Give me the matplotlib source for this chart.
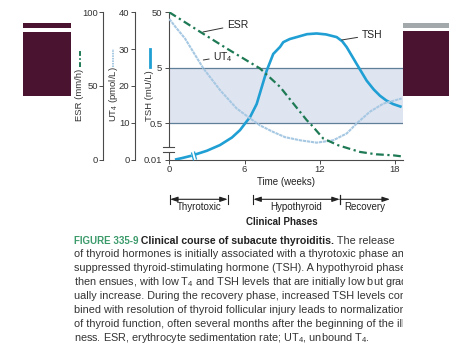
import numpy as np
import matplotlib.pyplot as plt
from matplotlib.lines import Line2D
from matplotlib.patches import Rectangle

plt.rcParams['font.family'] = ['Liberation Sans', 'DejaVu Sans']

# ---------------------------------------------------
# values
# ---------------------------------------------------
nan = np.nan
tsh_weeks = [0.45, 1.0, 1.78, 1.9, 2.05, 3.0, 4.04, 5.0, 5.64, 6.1, 6.44, 6.97, 7.37, 7.77,
             8.29, 8.83, 9.09, 9.6, 10.16, 10.98, 11.75, 12.5, 13.35, 13.8, 14.15, 14.94,
             15.74, 16.30, 16.80, 17.30, 17.84, 18.53]
tsh_vals = [0.01, 0.03, 0.063, nan, 0.078, 0.13, 0.207, 0.31, 0.41, 0.52, 0.65, 1.12, 2.24,
            4.47, 8.9, 11.9, 14.5, 16.5, 17.9, 20.2, 20.8, 20.0, 17.9, 15.0, 11.8, 5.9,
            2.95, 2.05, 1.58, 1.3, 1.12, 0.99]

ut4_weeks = [0, 0.5, 1.25, 2.71, 4.04, 5.37, 6.44, 7.23, 8.29, 9.23, 10.42, 11.75,
             13.08, 14.15, 14.94, 16.0, 17.07, 18.53]
ut4_vals = [38.2, 36.0, 32.9, 24.8, 18.9, 13.9, 11.2, 9.3, 7.5, 6.1, 5.25, 4.6,
            5.25, 7.1, 9.8, 13.0, 15.2, 16.6]

esr_weeks = [0, 2.45, 4.57, 7.23, 8.83, 9.89, 10.96, 11.36, 12.28, 13.48, 15.21,
             16.5, 17.86, 18.53]
esr_vals = [100, 86.8, 75.5, 61.9, 49.4, 38.1, 26.8, 23.3, 14.3, 9.7, 5.2,
            3.6, 2.9, 2.2]

x_ticks = [0, 6, 12, 18]
tsh_ticks = [0.01, 0.5, 5, 50]
tsh_tick_labels = ['0.01', '0.5', '5', '50']
ut4_ticks = [0, 10, 20, 30, 40]
esr_ticks = [0, 50, 100]
normal_low, normal_high = 0.5, 5

phases = [('Thyrotoxic', 0.06, 4.66), ('Hypothyroid', 6.7, 13.6), ('Recovery', 13.6, 17.6)]

caption_lines = [
    "of thyroid hormones is initially associated with a thyrotoxic phase and",
    "suppressed thyroid-stimulating hormone (TSH). A hypothyroid phase",
    r"then ensues, with low T$\mathregular{_4}$ and TSH levels that are initially low but grad-",
    "ually increase. During the recovery phase, increased TSH levels com-",
    "bined with resolution of thyroid follicular injury leads to normalization",
    "of thyroid function, often several months after the beginning of the ill-",
    r"ness. ESR, erythrocyte sedimentation rate; UT$\mathregular{_4}$, unbound T$\mathregular{_4}$.",
]

# colours
c_tsh = '#1f9fd3'
c_ut4 = '#a6c8e2'
c_esr = '#1e7a55'
c_axis = '#4a4a4a'
c_band = '#dfe4f1'
c_bandline = '#5f7f99'
c_maroon = '#4a132f'


# ---------------------------------------------------
# broken TSH scale: log above 0.5, squeezed linear below
# ---------------------------------------------------
L05 = np.log10(0.5)
LOW_SPAN = 0.65


def fwd(v):
    v = np.asarray(v, dtype=float)
    return np.where(v >= 0.5, np.log10(np.maximum(v, 1e-9)),
                    L05 - (0.5 - v) / 0.49 * LOW_SPAN)


def inv(u):
    u = np.asarray(u, dtype=float)
    return np.where(u >= L05, 10 ** u, 0.5 - (L05 - u) / LOW_SPAN * 0.49)


W, H = 474, 355
fig = plt.figure(figsize=(W / 100, H / 100), dpi=100)


def px(x, y):
    return x / W, 1 - y / H


ax_l, ax_r, ax_t, ax_b = 169.3, 403, 12.3, 159.6
ax = fig.add_axes([ax_l / W, 1 - ax_b / H, (ax_r - ax_l) / W, (ax_b - ax_t) / H])

ax.set_yscale('function', functions=(fwd, inv))
ax.set_xlim(0, 18.64)
ax.set_ylim(0.01, 50)

# normal range band
ax.axhspan(normal_low, normal_high, color=c_band, lw=0, zorder=0)
ax.axhline(normal_low, color=c_bandline, lw=0.9, zorder=1)
ax.axhline(normal_high, color=c_bandline, lw=0.9, zorder=1)

ax.plot(tsh_weeks, tsh_vals, color=c_tsh, lw=1.9, zorder=4, solid_capstyle='butt',
        solid_joinstyle='round')
# break marks on the TSH curve
ax.plot([1.78, 2.05], [0.063, 0.078], ls='none', marker=(2, 0, 15), ms=6,
        mew=0.9, color=c_tsh, zorder=4)

for s in ['top', 'right']:
    ax.spines[s].set_visible(False)
for s in ['left', 'bottom']:
    ax.spines[s].set_color(c_axis)
    ax.spines[s].set_linewidth(0.8)

tick_kw = dict(direction='out', length=3, width=0.7, colors=c_axis,
               labelsize=6.8, pad=1, labelcolor='#333333')
ax.set_yticks(tsh_ticks)
ax.set_yticklabels(tsh_tick_labels)
ax.yaxis.set_minor_locator(plt.NullLocator())
ax.set_xticks(x_ticks)
ax.tick_params(axis='both', **tick_kw)
ax.tick_params(axis='y', pad=2)
ax.set_xlabel('Time (weeks)', fontsize=7, labelpad=2, color='#222222')

# axis break on the TSH spine
for yb in [0.0516, 0.0855]:
    ax.plot([-0.025, 0.02], [yb, yb], transform=ax.transAxes, color=c_axis,
            lw=0.8, clip_on=False, zorder=6)
ax.plot([0, 0], [0.056, 0.081], transform=ax.transAxes, color='white', lw=2,
        clip_on=False, zorder=5)


# ---------------------------------------------------
# extra y axes: UT4 and ESR
# ---------------------------------------------------
def side_axis(offset_px, ylim, ticks):
    a = ax.twinx()
    a.yaxis.tick_left()
    for s in ['top', 'right', 'bottom']:
        a.spines[s].set_visible(False)
    a.spines['left'].set_visible(True)
    a.spines['left'].set_position(('outward', offset_px * 0.72))
    a.spines['left'].set_color(c_axis)
    a.spines['left'].set_linewidth(0.8)
    a.set_ylim(*ylim)
    a.set_yticks(ticks)
    a.tick_params(axis='y', **tick_kw)
    return a


ax_ut4 = side_axis(34.3, (0, 40), ut4_ticks)
ax_ut4.plot(ut4_weeks, ut4_vals, color=c_ut4, lw=1.5, ls=(0, (1.6, 0.35)), zorder=3)

ax_esr = side_axis(66, (0, 100), esr_ticks)
ax_esr.plot(esr_weeks, esr_vals, color=c_esr, lw=1.6, ls=(0, (3.5, 1.6, 1, 1.6)), zorder=3)

# curve labels with leader lines
for name, xy, xyt in [('ESR', (0.1442, 0.8663), (0.2469, 0.9138)),
                      (r'UT$\mathregular{_4}$', (0.1455, 0.6762), (0.1883, 0.6986)),
                      ('TSH', (0.7377, 0.812), (0.8233, 0.8459))]:
    ax_esr.annotate(name, xy=xy, xytext=xyt, xycoords='axes fraction',
                    textcoords='axes fraction', ha='left', va='center', fontsize=7.5,
                    color='#222222',
                    arrowprops=dict(arrowstyle='-', color='#333333', lw=0.7,
                                    shrinkA=1, shrinkB=0))

# rotated axis titles with small line samples
for x, ybot, label, color, style, lw in [
        (80, 121, 'ESR (mm/h)', c_esr, (0, (2.5, 1.2, 0.8, 1.2)), 1.4),
        (113.3, 122, r'UT$\mathregular{_4}$ (pmol/L)', c_ut4, (0, (0.8, 0.5)), 1.4),
        (150, 121, 'TSH (mU/L)', c_tsh, '-', 2.0)]:
    fig.text(*px(x, ybot), label, rotation=90, ha='center', va='bottom', fontsize=6.8,
             color='#333333')
    fig.add_artist(Line2D([x / W, x / W], [1 - 67 / H, 1 - 49 / H], color=color,
                          ls=style, lw=lw, transform=fig.transFigure))

# ---------------------------------------------------
# clinical phases
# ---------------------------------------------------
tr = ax.get_xaxis_transform()
y_arrow = (ax_b - 199.3) / (ax_b - ax_t)
y_bar0 = (ax_b - 195) / (ax_b - ax_t)
y_bar1 = (ax_b - 203.5) / (ax_b - ax_t)
y_text = (ax_b - 207.5) / (ax_b - ax_t)
for name, x0, x1 in phases:
    style = '-|>' if name == 'Recovery' else '<|-|>'
    ax.annotate('', xy=(x1, y_arrow), xytext=(x0, y_arrow), xycoords=tr,
                textcoords=tr, annotation_clip=False,
                arrowprops=dict(arrowstyle=style + ',head_length=0.45,head_width=0.15',
                                color='#222222', lw=0.8, shrinkA=0, shrinkB=0))
    bars = [x0] if name == 'Recovery' else [x0, x1]
    for xb in bars:
        ax.plot([xb, xb], [y_bar0, y_bar1], transform=tr, color='#222222', lw=0.8,
                clip_on=False)
    ax.text((x0 + x1) / 2, y_text, name, transform=tr, ha='center', va='center',
            fontsize=7, color='#222222')
ax.text(9.0, (ax_b - 221.7) / (ax_b - ax_t), 'Clinical Phases', transform=tr,
        ha='center', va='center', fontsize=7, fontweight='bold', color='#222222')

# ---------------------------------------------------
# caption, cut at the slide edge
# ---------------------------------------------------
cap = fig.add_axes([74 / W, 0, (403 - 74) / W, 1])
cap.set_axis_off()
cap.set_xlim(0, 1)
cap.set_ylim(0, 1)
fs_cap = 7.85
base0, step = 243.5, 13.9

t1 = cap.text(0, 1 - base0 / H, 'FIGURE 335-9', fontsize=7.0, fontweight='bold',
              color='#3a9a6a', va='baseline')
t2 = cap.annotate(' Clinical course of subacute thyroiditis.', xy=(1, 0), xycoords=t1,
                  va='bottom', fontsize=7.6, fontweight='bold', color='#222222')
t3 = cap.annotate(' The release', xy=(1, 0), xycoords=t2,
                  va='bottom', fontsize=fs_cap, color='#333333')
for t in (t1, t2, t3):
    t.set_clip_box(cap.bbox)
    t.set_clip_on(True)

for i, line in enumerate(caption_lines):
    t = cap.text(0, 1 - (base0 + step * (i + 1)) / H, line, fontsize=fs_cap,
                 color='#333333', va='baseline')
    t.set_clip_box(cap.bbox)
    t.set_clip_on(True)

# ---------------------------------------------------
# slide decorations
# ---------------------------------------------------
for x0, y0, x1, y1, col in [(23.3, 22.7, 71, 27.7, c_maroon),
                            (23.3, 31.7, 71, 96, c_maroon),
                            (402.5, 23.3, 449.3, 28.3, '#a3a8ab'),
                            (402.5, 31, 449.3, 96, c_maroon)]:
    fig.add_artist(Rectangle((x0 / W, 1 - y1 / H), (x1 - x0) / W, (y1 - y0) / H,
                             transform=fig.transFigure, color=col, lw=0, zorder=10))

fig.savefig('out.png', dpi=100)
